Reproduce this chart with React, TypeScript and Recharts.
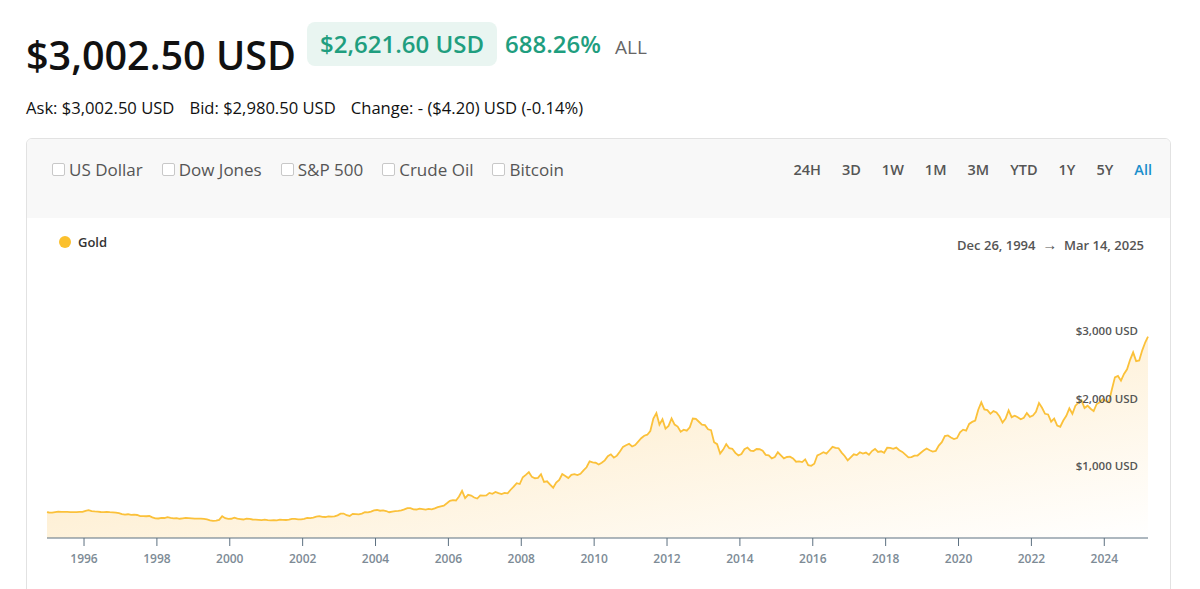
import { AreaChart, Area, XAxis, YAxis } from 'recharts';

// monthly gold prices (USD/oz)
const startPrice = 385; // Dec 26, 1994
const prices1995to1999 = [
  378, 377, 384, 391, 386, 388, 386, 383, 384, 383, 386, 388,
  402, 412, 398, 393, 391, 385, 384, 388, 382, 380, 377, 368,
  354, 346, 352, 343, 345, 341, 324, 325, 322, 326, 305, 290,
  289, 298, 296, 309, 298, 292, 294, 285, 291, 297, 294, 291,
  288, 288, 286, 283, 276, 262, 254, 256, 268, 322, 294, 284,
];
const prices2000to2004 = [
  285, 302, 287, 280, 274, 287, 282, 274, 273, 270, 266, 273,
  266, 262, 264, 260, 273, 270, 267, 273, 284, 282, 276, 277,
  283, 298, 295, 303, 316, 323, 313, 311, 321, 317, 320, 336,
  360, 362, 338, 327, 358, 355, 350, 362, 382, 379, 392, 410,
  415, 404, 408, 400, 382, 392, 399, 402, 408, 423, 442, 443,
];
const prices2005to2009 = [
  425, 422, 436, 428, 421, 432, 424, 440, 458, 470, 480, 515,
  552, 560, 556, 615, 698, 590, 640, 628, 600, 585, 632, 628,
  632, 668, 655, 682, 665, 652, 668, 662, 715, 760, 812, 800,
  900, 935, 975, 905, 885, 890, 945, 830, 840, 790, 745, 822,
  860, 948, 920, 888, 935, 945, 932, 952, 1002, 1048, 1135, 1120,
];
const prices2010to2014 = [
  1115, 1090, 1115, 1150, 1212, 1240, 1190, 1220, 1280, 1350, 1375, 1395,
  1355, 1378, 1428, 1478, 1515, 1530, 1585, 1770, 1850, 1680, 1760, 1620,
  1660, 1770, 1680, 1650, 1575, 1605, 1590, 1640, 1770, 1765, 1722, 1680,
  1672, 1610, 1598, 1420, 1390, 1250, 1310, 1390, 1330, 1322, 1262, 1222,
  1245, 1315, 1340, 1295, 1288, 1318, 1315, 1292, 1232, 1225, 1180, 1200,
];
const prices2015to2019 = [
  1270, 1225, 1180, 1200, 1205, 1178, 1130, 1135, 1125, 1165, 1080, 1070,
  1100, 1225, 1245, 1270, 1250, 1300, 1350, 1335, 1330, 1265, 1215, 1150,
  1195, 1240, 1228, 1270, 1250, 1265, 1232, 1288, 1320, 1275, 1285, 1262,
  1338, 1335, 1322, 1340, 1300, 1275, 1235, 1195, 1198, 1220, 1222, 1260,
  1295, 1325, 1300, 1280, 1290, 1370, 1420, 1510, 1520, 1490, 1465, 1480,
];
const prices2020to2024 = [
  1565, 1605, 1590, 1690, 1720, 1740, 1900, 2010, 1905, 1895, 1840, 1880,
  1860, 1800, 1710, 1770, 1890, 1790, 1812, 1790, 1760, 1780, 1850, 1795,
  1815, 1870, 2000, 1930, 1840, 1830, 1725, 1770, 1665, 1648, 1740, 1810,
  1920, 1840, 1960, 2005, 2040, 1925, 1960, 1915, 1880, 1985, 2010, 2060,
  2030, 2010, 2200, 2380, 2400, 2330, 2430, 2500, 2640, 2750, 2620, 2630,
];
const prices2025 = [2780, 2900, 2985];

const xTicks = [1996, 1998, 2000, 2002, 2004, 2006, 2008, 2010, 2012, 2014, 2016, 2018, 2020, 2022, 2024];
const yTicks = [1000, 2000, 3000];
const startT = 1994.984;
const endT = 2025.2;

const quoteParts = ['Ask: $3,002.50 USD', 'Bid: $2,980.50 USD', 'Change: - ($4.20) USD (-0.14%)'];
const compareItems = ['US Dollar', 'Dow Jones', 'S&P 500', 'Crude Oil', 'Bitcoin'];
const ranges = ['24H', '3D', '1W', '1M', '3M', 'YTD', '1Y', '5Y', 'All'];

const monthly = [...prices1995to1999, ...prices2000to2004, ...prices2005to2009, ...prices2010to2014, ...prices2015to2019, ...prices2020to2024];
const chartData = [
  { t: startT, price: startPrice },
  ...monthly.map((p, i) => ({ t: 1995 + (i + 0.5) / 12, price: p })),
  { t: 2025 + 0.5 / 12, price: prices2025[0] },
  { t: 2025 + 1.5 / 12, price: prices2025[1] },
  { t: endT, price: prices2025[2] },
];

const YTick = (props: any) => {
  const { x, y, payload } = props;
  return (
    <text x={x} y={y - 5} textAnchor="end" dominantBaseline="central" fontSize={11.5} fontWeight={600} fill="#555">
      ${Number(payload.value).toLocaleString('en-US')} USD
    </text>
  );
};

const GREEN = '#1f9e7f';

export default function App() {
  return (
    <div style={{ position: 'absolute', left: 0, top: 0, width: 1200, height: 589, background: '#fff', fontFamily: '"Open Sans", sans-serif', overflow: 'hidden' }}>
      {/* header */}
      <div style={{ position: 'absolute', left: 26, top: 28, fontSize: 39.5, fontWeight: 600, color: '#111', lineHeight: '54px' }}>$3,002.50 USD</div>
      <div style={{ position: 'absolute', left: 307, top: 22, width: 190, height: 44, borderRadius: 8, background: '#e9f5f1', color: GREEN, fontSize: 24, fontWeight: 600, lineHeight: '44px', textAlign: 'center' }}>$2,621.60 USD</div>
      <div style={{ position: 'absolute', left: 505, top: 22, color: GREEN, fontSize: 24, fontWeight: 600, lineHeight: '44px' }}>688.26%</div>
      <div style={{ position: 'absolute', left: 615, top: 25, color: '#666', fontSize: 19, lineHeight: '44px' }}>ALL</div>
      <div style={{ position: 'absolute', left: 26, top: 97, fontSize: 16.6, color: '#111', lineHeight: '22px', display: 'flex', gap: 15, whiteSpace: 'pre' }}>
        {quoteParts.map((q) => <span key={q}>{q}</span>)}
      </div>

      {/* card */}
      <div style={{ position: 'absolute', left: 26, top: 138, width: 1143, height: 470, border: '1px solid #e2e2e2', borderRadius: 6, overflow: 'hidden', background: '#fff' }}>
        <div style={{ height: 79, background: '#f8f8f8', position: 'relative' }}>
          <div style={{ position: 'absolute', left: 25, top: 19, display: 'flex', gap: 19 }}>
            {compareItems.map((c) => (
              <div key={c} style={{ display: 'flex', alignItems: 'center', fontSize: 17, color: '#555' }}>
                <span style={{ width: 11, height: 11, border: '1px solid #c8c8c8', borderRadius: 2, background: '#fff', marginRight: 4, display: 'inline-block' }} />
                {c}
              </div>
            ))}
          </div>
          <div style={{ position: 'absolute', right: 18, top: 21, display: 'flex', gap: 21 }}>
            {ranges.map((r) => (
              <div key={r} style={{ fontSize: 14.5, fontWeight: 600, color: r === 'All' ? '#1a8fcc' : '#555' }}>{r}</div>
            ))}
          </div>
        </div>
      </div>

      {/* legend + range */}
      <div style={{ position: 'absolute', left: 59, top: 236, width: 12, height: 12, borderRadius: 6, background: '#fbc02d' }} />
      <div style={{ position: 'absolute', left: 78, top: 233, fontSize: 13, fontWeight: 600, color: '#333', lineHeight: '18px' }}>Gold</div>
      <div style={{ position: 'absolute', right: 56, top: 235, fontSize: 13, fontWeight: 600, color: '#555', lineHeight: '18px', whiteSpace: 'pre' }}>
        Dec 26, 1994  <span style={{ fontSize: 15, fontWeight: 400 }}>{'\u2192'}</span>  Mar 14, 2025
      </div>

      <div style={{ position: 'absolute', left: 27, top: 230 }}>
        <AreaChart width={1143} height={359} data={chartData} margin={{ top: 38, right: 22, left: 20, bottom: 21 }}>
          <defs>
            <linearGradient id="goldFill" x1="0" y1="0" x2="1" y2="1">
              <stop offset="0%" stopColor="#fcd385" stopOpacity={1} />
              <stop offset="100%" stopColor="#ffffff" stopOpacity={1} />
            </linearGradient>
          </defs>
          <XAxis
            dataKey="t"
            type="number"
            domain={[startT, endT]}
            ticks={xTicks}
            interval={0}
            height={30}
            tickSize={8}
            tickMargin={8}
            stroke="#5d7080"
            tick={{ fontSize: 12, fontWeight: 600, fill: '#7d8b96' }}
            tickFormatter={(v: number) => String(Math.round(v))}
          />
          <YAxis
            orientation="right"
            mirror
            width={60}
            domain={[0, 4000]}
            ticks={yTicks}
            axisLine={false}
            tickLine={false}
            tickMargin={4}
            tick={YTick}
          />
          <Area
            type="linear"
            dataKey="price"
            stroke="#fbc13a"
            strokeWidth={1.8}
            fill="url(#goldFill)"
            isAnimationActive={false}
            dot={false}
            activeDot={false}
          />
        </AreaChart>
      </div>
    </div>
  );
}
